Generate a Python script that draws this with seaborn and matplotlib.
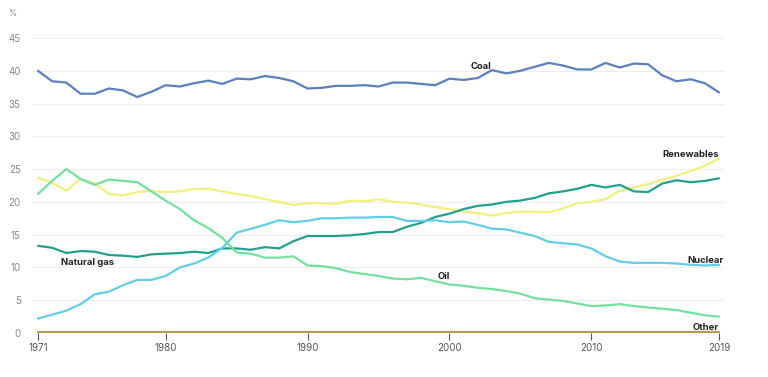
import matplotlib
matplotlib.use("Agg")
import matplotlib.pyplot as plt
import seaborn as sns
import pandas as pd
import numpy as np

years = list(range(1971, 2020))

coal = [40.0, 38.4, 38.2, 36.5, 36.5, 37.3, 37.0, 36.0, 36.8, 37.8,
        37.6, 38.1, 38.5, 38.0, 38.8, 38.7, 39.2, 38.9, 38.4, 37.3,
        37.4, 37.7, 37.7, 37.8, 37.6, 38.2, 38.2, 38.0, 37.8, 38.8,
        38.6, 38.9, 40.1, 39.6, 40.0, 40.6, 41.2, 40.8, 40.2, 40.2,
        41.2, 40.5, 41.1, 41.0, 39.3, 38.4, 38.7, 38.1, 36.7]
oil = [21.2, 23.2, 25.0, 23.5, 22.6, 23.4, 23.2, 23.0, 21.6, 20.2,
       18.9, 17.2, 16.0, 14.5, 12.3, 12.1, 11.5, 11.5, 11.7, 10.3,
       10.2, 9.9, 9.3, 9.0, 8.7, 8.3, 8.2, 8.4, 7.9, 7.4,
       7.2, 6.9, 6.7, 6.4, 6.0, 5.3, 5.1, 4.9, 4.5, 4.1,
       4.2, 4.4, 4.1, 3.9, 3.7, 3.5, 3.1, 2.7, 2.5]
renewables = [23.7, 22.9, 21.7, 23.5, 22.8, 21.2, 21.0, 21.5, 21.7, 21.5,
              21.6, 22.0, 22.0, 21.6, 21.2, 20.9, 20.4, 20.0, 19.5, 19.8,
              19.8, 19.7, 20.2, 20.1, 20.4, 20.0, 19.9, 19.6, 19.2, 18.9,
              18.5, 18.3, 17.9, 18.3, 18.5, 18.5, 18.4, 19.0, 19.8, 20.0,
              20.4, 21.7, 22.2, 22.7, 23.4, 24.0, 24.7, 25.5, 26.6]
natural_gas = [13.3, 13.0, 12.2, 12.5, 12.4, 11.9, 11.8, 11.6, 12.0, 12.1,
               12.2, 12.4, 12.2, 12.9, 12.9, 12.7, 13.1, 12.9, 14.0, 14.8,
               14.8, 14.8, 14.9, 15.1, 15.4, 15.4, 16.2, 16.8, 17.7, 18.2,
               18.9, 19.4, 19.6, 20.0, 20.2, 20.6, 21.3, 21.6, 22.0, 22.6,
               22.2, 22.6, 21.6, 21.5, 22.8, 23.3, 23.0, 23.2, 23.6]
nuclear = [2.2, 2.8, 3.4, 4.4, 5.9, 6.3, 7.3, 8.1, 8.1, 8.7,
           10.0, 10.6, 11.5, 13.0, 15.3, 15.9, 16.5, 17.2, 16.9, 17.1,
           17.5, 17.5, 17.6, 17.6, 17.7, 17.7, 17.1, 17.1, 17.2, 16.9,
           17.0, 16.5, 15.9, 15.8, 15.3, 14.8, 13.9, 13.7, 13.5, 12.9,
           11.7, 10.9, 10.7, 10.7, 10.7, 10.6, 10.4, 10.3, 10.4]
other = [0.1] * 49

series = {
    "Coal": coal,
    "Renewables": renewables,
    "Natural gas": natural_gas,
    "Nuclear": nuclear,
    "Oil": oil,
    "Other": other,
}
xticks = [1971, 1980, 1990, 2000, 2010, 2019]
yticks = [0, 5, 10, 15, 20, 25, 30, 35, 40, 45]

palette = {
    "Coal": "#5a80be",
    "Renewables": "#f3ef7c",
    "Natural gas": "#23a08d",
    "Nuclear": "#62cde6",
    "Oil": "#74e09d",
    "Other": "#b39a57",
}

rows = []
for name, vals in series.items():
    for y, v in zip(years, vals):
        rows.append({"year": y, "value": v, "source": name})
df = pd.DataFrame(rows)

sns.set_theme(style="white")
plt.rcParams['font.family'] = ['Inter', 'DejaVu Sans']

fig = plt.figure(figsize=(7.68, 3.77), dpi=100)
ax = fig.add_axes([32/768, 1-333/377, (725-32)/768, (333-38)/377])

sns.lineplot(data=df[df.source != "Other"], x="year", y="value", hue="source",
             palette=palette, linewidth=1.6, legend=False, ax=ax, zorder=3)
sns.lineplot(data=df[df.source == "Other"], x="year", y="value", hue="source",
             palette=palette, linewidth=1.6, legend=False, ax=ax, zorder=2)

ax.set_xlim(1971 - 0.42, 2019 + 0.42)
ax.set_ylim(0, 45)
ax.set_yticks(yticks)
ax.set_xticks(xticks)
ax.set_xticklabels([str(t) for t in xticks])
ax.grid(axis="y", color="#eeeeee", linewidth=0.8)
ax.set_axisbelow(True)
for s in ax.spines.values():
    s.set_visible(False)
ax.tick_params(axis="y", length=0, labelsize=7, labelcolor="#888888", pad=8)
ax.tick_params(axis="x", length=5, width=0.8, color="#555555", direction="out",
               labelsize=7, labelcolor="#555555", pad=2, bottom=True)
ax.set_xlabel("")
ax.set_ylabel("")

fig.text(8/768, 1-14/377, "%", fontsize=6, color="#888888", va="center", ha="left")

lab = dict(fontsize=6.8, fontweight="bold", color="#222222")
ax.text(2002.2, 39.9, "Coal", ha="center", va="bottom", **lab)
ax.text(2019, 26.5, "Renewables", ha="right", va="bottom", **lab)
ax.text(1972.6, 10.8, "Natural gas", ha="left", va="center", **lab)
ax.text(2019.3, 11.0, "Nuclear", ha="right", va="center", **lab)
ax.text(1999.6, 8.6, "Oil", ha="center", va="center", **lab)
ax.text(2019.0, 0.2, "Other", ha="right", va="bottom", **lab)

fig.savefig("out.png", dpi=100, facecolor="white")
